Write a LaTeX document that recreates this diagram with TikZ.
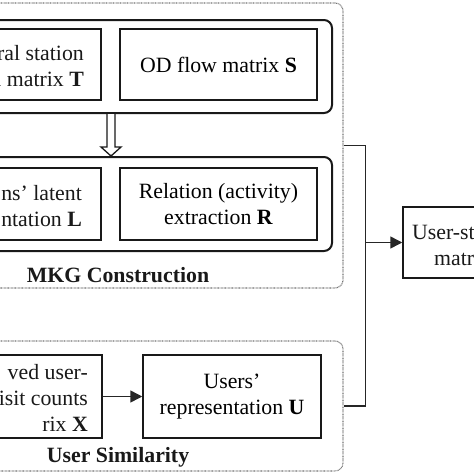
\documentclass[tikz,border=0pt]{standalone}
\usepackage{fontspec}
\setmainfont{Liberation Serif}
\usetikzlibrary{calc,arrows.meta}
\begin{document}
\begin{tikzpicture}[x=1pt,y=-1pt,
  font=\fontsize{21.8}{26}\selectfont,
  dotbox/.style={draw=black!55, line width=1.1pt, dash pattern=on 0.7pt off 0.7pt, rounded corners=8pt, inner sep=0pt},
  roundbox/.style={draw=black!90, line width=2pt, rounded corners=8pt, inner sep=0pt},
  rectbox/.style={draw=black!90, line width=1.5pt, inner sep=0pt, align=center},
  txt/.style={inner sep=0pt, text=black!90},
  conn/.style={draw=black!85, line width=1.5pt},
  arr/.style={conn, -{Triangle[length=12pt,width=12pt]}},
  hollow/.style={draw=black!90, line width=1.3pt, fill=white, line join=miter}
]
\useasboundingbox (0,0) rectangle (474,474);
\clip (0,0) rectangle (474,474);
\fill[white] (0,0) rectangle (474,474);

% MKG construction group
\node[dotbox, minimum width=493pt, minimum height=285pt] (mkg) at (96.5,145.5) {};
\node[roundbox, minimum width=472pt, minimum height=93pt] (top) at (96,66.5) {};
\node[rectbox, minimum width=231pt, minimum height=71pt] (T) at (-14.5,64.5) {};
\node[txt, anchor=east, align=right] (Ttxt) at (84,66) {ral station\\l matrix \textbf{T}};
\node[rectbox, minimum width=197pt, minimum height=71pt] (S) at (218.5,64.5) {OD flow matrix \textbf{S}};

\node[roundbox, minimum width=472pt, minimum height=94pt] (bot) at (96,204) {};
\node[rectbox, minimum width=231pt, minimum height=72pt] (L) at (-14.5,204) {};
\node[txt, anchor=east, align=right] (Ltxt) at (82,206) {ns’ latent\hspace{8pt}\\ntation \textbf{L}};
\node[rectbox, minimum width=197pt, minimum height=72pt] (R) at (218.5,204) {Relation (activity)\\extraction \textbf{R}};

\node[txt] (mkgl) at (118,275) {\textbf{MKG Construction}};

% hollow arrow
\coordinate (hx) at (111,0);
\coordinate (ha) at (top.south -| hx);
\coordinate (hb) at (bot.north -| hx);
\draw[hollow] ($(ha)+(-4,0)$) -- ($(hb)+(-4,-9)$) -- ($(hb)+(-10,-9)$) -- (hb)
  -- ($(hb)+(10,-9)$) -- ($(hb)+(4,-9)$) -- ($(ha)+(4,0)$);

% User similarity group
\node[dotbox, minimum width=493pt, minimum height=130pt] (us) at (96.5,406) {};
\node[rectbox, minimum width=232pt, minimum height=83pt] (X) at (-14,396.5) {};
\node[txt, anchor=east, align=right] (Xtxt) at (88,398) {ved user-\hspace{16pt}\\isit counts\\rix \textbf{X}\hspace{41pt}};
\node[rectbox, minimum width=178pt, minimum height=83pt] (U) at (232,396.5) {Users’\\representation \textbf{U}};
\node[txt] (usl) at (118,457) {\textbf{User Similarity}};

\draw[arr] (X.east) -- (U.west);

% user-station matrix
\node[rectbox, minimum width=137pt, minimum height=71pt] (M) at (471.5,242.5) {};
\node[txt, anchor=west, align=left] (Mtxt) at (412,245) {User-st\\\hspace{22pt}matr};

% connectors
\coordinate (j) at ($(us.east)+(22,0)$);
\draw[conn] (mkg.east) -| (j) -- (us.east);
\draw[arr] (j |- M.west) -- (M.west);
\end{tikzpicture}
\end{document}
